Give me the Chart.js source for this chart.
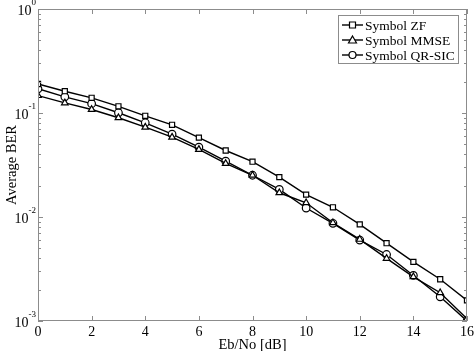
<!DOCTYPE html>
<html>
<head>
<meta charset="utf-8">
<script src="https://cdn.jsdelivr.net/npm/chart.js@4"></script>
<style>
  html, body { margin: 0; padding: 0; background: #fff; }
  #wrap { width: 474px; height: 351px; }
</style>
</head>
<body>
<div id="wrap"><canvas id="berChart" width="474" height="351"></canvas></div>
<script>
// Eb/No in dB
const ebno = [0, 1, 2, 3, 4, 5, 6, 7, 8, 9, 10, 11, 12, 13, 14, 15, 16];

// average BER
const berZF = [0.190, 0.162, 0.140, 0.116, 0.094, 0.077, 0.058, 0.0436, 0.034, 0.0242,
    0.0164, 0.0124, 0.0085, 0.0056, 0.0037, 0.00252, 0.00158];
const berMMSE = [0.147, 0.125, 0.108, 0.090, 0.073, 0.0585, 0.0446, 0.0327, 0.0252, 0.0171,
    0.0137, 0.0088, 0.0061, 0.0040, 0.00266, 0.00187, 0.00105];
const berQR = [0.171, 0.143, 0.123, 0.1005, 0.0805, 0.0626, 0.047, 0.0344, 0.0252, 0.0184,
    0.0122, 0.0087, 0.0060, 0.00436, 0.00274, 0.00171, 0.00100];

const seriesNames = ['Symbol ZF', 'Symbol MMSE', 'Symbol QR-SIC'];
const markers = ['rect', 'triangle', 'circle'];
const xTicks = [0, 2, 4, 6, 8, 10, 12, 14, 16];
const yDecades = [0, -1, -2, -3];

const serif = '"Liberation Serif", "DejaVu Serif", serif';
const axisGrey = '#8c8c8c';

function makeSet(label, values, marker) {
    return {
        label: label,
        data: ebno.map((x, i) => ({ x: x, y: values[i] })),
        borderColor: '#000',
        borderWidth: 1.4,
        backgroundColor: '#fff',
        pointStyle: marker,
        pointRadius: marker === 'rect' ? 3.6 : 3.8,
        pointBorderWidth: 1.2,
        pointBorderColor: '#000',
        pointBackgroundColor: '#fff',
        fill: false,
        tension: 0
    };
}

// inward ticks, labels and box like the original figure
const frame = {
    id: 'frame',
    afterDraw(chart) {
        const ctx = chart.ctx;
        const xs = chart.scales.x, ys = chart.scales.y;
        const a = chart.chartArea;
        ctx.save();
        ctx.strokeStyle = axisGrey;
        ctx.lineWidth = 1;
        ctx.strokeRect(a.left + 0.5, a.top + 0.5, a.right - a.left - 1, a.bottom - a.top - 1);

        ctx.beginPath();
        xTicks.forEach(t => {
            const px = Math.round(xs.getPixelForValue(t)) + 0.5;
            ctx.moveTo(px, a.bottom); ctx.lineTo(px, a.bottom - 5);
            ctx.moveTo(px, a.top); ctx.lineTo(px, a.top + 5);
        });
        yDecades.forEach(d => {
            for (let m = 1; m <= 9; m++) {
                const v = m * Math.pow(10, d - 1);
                if (v < 0.001 || v > 1) continue;
                const len = m === 1 ? 5 : 3;
                const py = Math.round(ys.getPixelForValue(v)) + 0.5;
                ctx.moveTo(a.left, py); ctx.lineTo(a.left + len, py);
                ctx.moveTo(a.right, py); ctx.lineTo(a.right - len, py);
            }
        });
        ctx.moveTo(a.left, Math.round(ys.getPixelForValue(1)) + 0.5);
        ctx.lineTo(a.left + 5, Math.round(ys.getPixelForValue(1)) + 0.5);
        ctx.stroke();

        // tick labels
        ctx.fillStyle = '#000';
        ctx.font = '14px ' + serif;
        ctx.textAlign = 'center';
        ctx.textBaseline = 'top';
        xTicks.forEach(t => ctx.fillText(String(t), xs.getPixelForValue(t), a.bottom + 4));

        yDecades.forEach(d => {
            const py = ys.getPixelForValue(Math.pow(10, d));
            ctx.font = '9px ' + serif;
            const exp = String(d);
            const ew = ctx.measureText(exp).width;
            ctx.textAlign = 'left';
            ctx.textBaseline = 'middle';
            ctx.fillText(exp, a.left - 2 - ew, py - 6);
            ctx.font = '14px ' + serif;
            ctx.textAlign = 'right';
            ctx.fillText('10', a.left - 2 - ew, py + 2);
        });

        // axis titles
        ctx.font = '14.5px ' + serif;
        ctx.textAlign = 'center';
        ctx.textBaseline = 'alphabetic';
        ctx.fillText('Eb/No [dB]', (a.left + a.right) / 2, 349);
        ctx.save();
        ctx.translate(12, (a.top + a.bottom) / 2);
        ctx.rotate(-Math.PI / 2);
        ctx.textBaseline = 'middle';
        ctx.fillText('Average BER', 0, 0);
        ctx.restore();

        // legend
        const lx = 338, ly = 15, lw = 120, lh = 48;
        ctx.fillStyle = '#fff';
        ctx.fillRect(lx, ly, lw, lh);
        ctx.strokeStyle = axisGrey;
        ctx.lineWidth = 1;
        ctx.strokeRect(lx + 0.5, ly + 0.5, lw, lh);
        seriesNames.forEach((name, i) => {
            const ry = ly + 10 + i * 15;
            ctx.strokeStyle = '#000';
            ctx.lineWidth = 1.4;
            ctx.beginPath();
            ctx.moveTo(lx + 4, ry); ctx.lineTo(lx + 25, ry);
            ctx.stroke();
            ctx.lineWidth = 1.2;
            ctx.fillStyle = '#fff';
            ctx.beginPath();
            const cx = lx + 14.5;
            if (markers[i] === 'rect') {
                ctx.rect(cx - 3, ry - 3, 6, 6);
            } else if (markers[i] === 'triangle') {
                ctx.moveTo(cx, ry - 4); ctx.lineTo(cx + 4, ry + 3); ctx.lineTo(cx - 4, ry + 3); ctx.closePath();
            } else {
                ctx.arc(cx, ry, 3.5, 0, Math.PI * 2);
            }
            ctx.fill();
            ctx.stroke();
            ctx.fillStyle = '#000';
            ctx.font = '13.5px ' + serif;
            ctx.textAlign = 'left';
            ctx.textBaseline = 'middle';
            ctx.fillText(name, lx + 27, ry + 1);
        });
        ctx.restore();
    }
};

new Chart(document.getElementById('berChart'), {
    type: 'line',
    data: {
        datasets: [
            makeSet(seriesNames[0], berZF, markers[0]),
            makeSet(seriesNames[1], berMMSE, markers[1]),
            makeSet(seriesNames[2], berQR, markers[2])
        ]
    },
    options: {
        responsive: false,
        animation: false,
        layout: { padding: { top: 9, right: 7, left: 0, bottom: 0 } },
        plugins: { legend: { display: false }, tooltip: { enabled: false } },
        scales: {
            x: {
                type: 'linear',
                min: 0, max: 16,
                grid: { display: false, drawTicks: false },
                border: { display: false },
                ticks: { display: false },
                afterFit(scale) { scale.height = 30; }
            },
            y: {
                type: 'logarithmic',
                min: 0.001, max: 1,
                grid: { display: false, drawTicks: false },
                border: { display: false },
                ticks: { display: false },
                afterFit(scale) { scale.width = 38; }
            }
        }
    },
    plugins: [frame]
});
</script>
</body>
</html>
